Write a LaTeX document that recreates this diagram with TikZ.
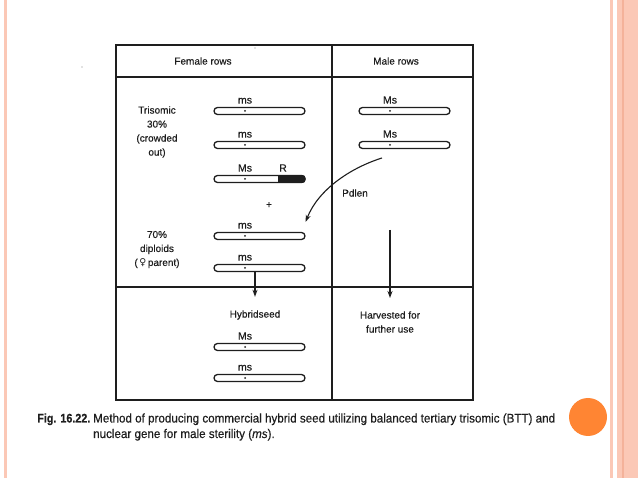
\documentclass[tikz,border=0pt]{standalone}
\usepackage{fontspec}
\setmainfont[FakeBold=0.5]{Liberation Sans}
\newfontfamily\capfont[FakeStretch=0.93, FakeBold=0.5]{Liberation Sans}
\newfontfamily\figfont[FakeStretch=0.86, FakeBold=0.5]{Liberation Sans}
\newfontfamily\symfont{DejaVu Sans}
\usetikzlibrary{arrows.meta, positioning, calc}
\definecolor{slidepink}{HTML}{FBC8B6}
\definecolor{slidepinkdark}{HTML}{F4B29A}
\definecolor{slideorange}{HTML}{FF8533}
\definecolor{inkgray}{HTML}{1E1E1E}
\tikzset{
  chrom/.style={draw=inkgray, line width=1.3pt, rounded corners=3.5pt,
    minimum width=91pt, minimum height=7pt, inner sep=0pt},
  gene/.style={font=\fontsize{10.5}{11}\selectfont, inner sep=1pt, text=inkgray},
  lbl/.style={font=\fontsize{10}{14}\selectfont, align=center, text=inkgray},
  grid/.style={draw=inkgray, line width=1.3pt},
  flow/.style={-{Stealth[length=7pt, width=5pt]}, draw=inkgray, line width=1.1pt},
  capline/.style={font=\capfont\fontsize{12.5}{15}\selectfont, inner sep=0pt, text=inkgray}
}
\begin{document}
\begin{tikzpicture}[x=1pt, y=-1pt]
  \useasboundingbox (0,0) rectangle (638,478);
  % --- slide frame: pink stripes and orange dot ---
  \fill[slidepink] (4,0) rectangle (7,478);
  \fill[slidepink] (610,0) rectangle (612.5,478);
  \fill[slidepink] (617,0) rectangle (638,478);
  \fill[slidepinkdark] (622,0) rectangle (624,478);
  \fill[slideorange] (588,417) circle (19);
  % --- stray specks of the scan ---
  \fill[gray] (82,67) circle (0.7);
  \fill[gray] (255,48) circle (0.7);
  % --- table ---
  \draw[grid] (116,45) rectangle (473,400);
  \draw[grid] (116,77) -- (473,77);
  \draw[grid] (116,287) -- (473,287);
  \draw[grid] (332,45) -- (332,400);
  \node[lbl] (femhead) at (203,61) {Female rows};
  \node[lbl] (malehead) at (396,61) {Male rows};
  % --- chromosomes with centromere and gene label ---
  \foreach \n/\cx/\cy/\g in {f1/259.5/111/ms, f2/259.5/145/ms, f3/259.5/179/Ms,
      f4/259.5/236/ms, f5/259.5/268/ms, m1/404.5/111/Ms, m2/404.5/145/Ms,
      h1/259.5/347/Ms, h2/259.5/378/ms}{
    \node[chrom] (\n) at (\cx,\cy) {};
    \fill[inkgray] ([xshift=-14.5pt]\n.center) circle (1pt);
    \node[gene, anchor=south] (\n-g) at ([xshift=-14.5pt, yshift=2pt]\n.north) {\g};
  }
  % black R end of the extra chromosome
  \begin{scope}
    \clip[rounded corners=3.5pt] (f3.south west) rectangle (f3.north east);
    \fill[inkgray] ([xshift=-28pt]f3.south east) rectangle (f3.north east);
  \end{scope}
  \node[gene, anchor=south] (f3-r) at ([xshift=23.5pt, yshift=2pt]f3.north) {R};
  % --- row labels ---
  \node[lbl] (tri) at (157,132) {Trisomic\\30\%\\(crowded\\out)};
  \node[lbl] (dip) at (157,249.5) {70\%\\diploids\\({\symfont\fontsize{9.5}{10}\selectfont\,♀\,}parent)};
  \node[lbl] (plus) at (269,205) {+};
  \node[lbl] (pdlen) at (355,193) {Pdlen};
  \node[lbl] (hyb) at (255,315) {Hybridseed};
  \node[lbl] (harv) at (390,322) {Harvested for\\further use};
  % --- pollen flow and harvest arrows ---
  \coordinate (pol) at (382,158);
  \coordinate (malebase) at (390,230);
  \draw[flow] (pol) .. controls (350,168) and (318,190) .. ([yshift=10pt]f4.north east);
  \draw[flow] (malebase) -- (390,298);
  \draw[flow] (f5.south -| hyb.north) -- ([yshift=10pt]hyb.north);
  % --- caption ---
  \node[capline, anchor=base east, font=\figfont\bfseries\fontsize{12.5}{15}\selectfont] (fig) at (90.5,422.5) {Fig. 16.22.};
  \node[capline, anchor=base west] (cap1) at (93,422.5)
    {Method of producing commercial hybrid seed utilizing balanced tertiary trisomic (BTT) and};
  \node[capline, anchor=base west] (cap2) at (93,438)
    {nuclear gene for male sterility (\textit{ms}).};
\end{tikzpicture}
\end{document}
